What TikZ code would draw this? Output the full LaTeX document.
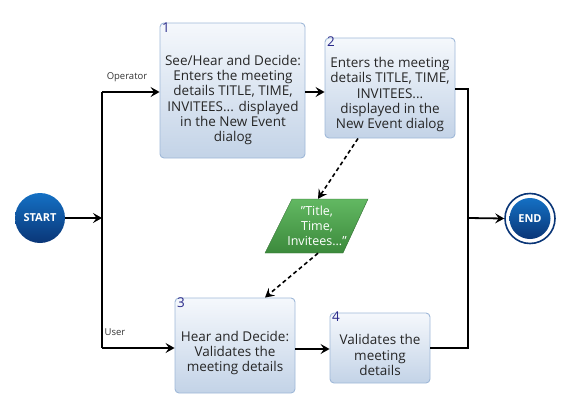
\documentclass[tikz,border=0pt]{standalone}
\usepackage{fontspec}
\setmainfont{Open Sans}
\usetikzlibrary{arrows.meta,shapes.geometric,calc}
\definecolor{boxtop}{HTML}{F5F8FC}
\definecolor{boxbot}{HTML}{C3D3E7}
\definecolor{boxline}{HTML}{9FB8D8}
\definecolor{numcol}{HTML}{2A2A8A}
\definecolor{stTop}{HTML}{1470C4}
\definecolor{stBot}{HTML}{0A3677}
\definecolor{grTop}{HTML}{62B862}
\definecolor{grBot}{HTML}{3C8A3C}
\tikzset{
  x=1pt,y=-1pt,
  stepbox/.style={draw=boxline,line width=0.9pt,rounded corners=4pt,top color=boxtop,bottom color=boxbot,inner sep=0pt},
  boxtext/.style={align=center,font=\fontsize{13.5}{15.3}\selectfont,text=black!85,inner sep=0pt},
  numtxt/.style={font=\fontsize{13.5}{13.5}\selectfont,text=numcol,inner sep=0pt,anchor=north west},
  flow/.style={line width=1.8pt,-{Stealth[length=9pt,width=10pt,inset=3.5pt]}},
  plain/.style={line width=1.8pt},
  dflow/.style={line width=1.6pt,dash pattern=on 4pt off 3pt,-{Stealth[length=9pt,width=10pt,inset=3.5pt]}},
  lbl/.style={font=\fontsize{9.5}{11}\selectfont,text=black!80,inner sep=0pt},
  terminal/.style={circle,minimum size=#1,inner sep=0pt,top color=stTop,bottom color=stBot,text=white,font=\fontsize{11}{11}\selectfont\bfseries},
}
\begin{document}
\begin{tikzpicture}
\useasboundingbox (0,0) rectangle (571,410);
% terminals
\node[terminal=50pt] (start) at (40,218) {START};
\node[circle,draw=stBot,line width=1.6pt,minimum size=50pt,inner sep=0pt,fill=white] (endring) at (530,218.5) {};
\node[terminal=41pt] (end) at (530,218.5) {END};
% boxes
\node[stepbox,minimum width=145pt,minimum height=135pt] (b1) at (232.5,90.5) {};
\node[boxtext] (t1) at (233,100) {See/Hear and Decide:\\Enters the meeting\\details TITLE, TIME,\\INVITEES... displayed\\in the New Event\\dialog};
\node[numtxt] (n1) at (162,23) {1};
\node[stepbox,minimum width=130pt,minimum height=100pt] (b2) at (390,88) {};
\node[boxtext] (t2) at (390,94.5) {Enters the meeting\\details TITLE, TIME,\\INVITEES...\\displayed in the\\New Event dialog};
\node[numtxt] (n2) at (327,37) {2};
\node[stepbox,minimum width=120pt,minimum height=95pt] (b3) at (235,345.5) {};
\node[boxtext] (t3) at (235,353) {Hear and Decide:\\Validates the\\meeting details};
\node[numtxt] (n3) at (177,298) {3};
\node[stepbox,minimum width=100pt,minimum height=70pt] (b4) at (380,348) {};
\node[boxtext] (t4) at (380,355) {Validates the\\meeting\\details};
\node[numtxt] (n4) at (332,312) {4};
% data parallelogram
\shade[top color=grTop,bottom color=grBot,draw=grBot!80!black,line width=0.4pt] (292,199) -- (368,199) -- (343,253) -- (265,253) -- cycle;
\node[align=center,text=white,font=\fontsize{12.5}{15}\selectfont,inner sep=0pt,minimum width=50pt,minimum height=54pt] (data) at (317,226) {"Title,\\Time,\\Invitees..."};
% junction coordinates
\coordinate (j) at (102,218);
\coordinate (jt) at (102,92);
\coordinate (jb) at (102,348);
\coordinate (k) at (468,218);
\coordinate (kt) at (468,89);
\coordinate (kb) at (468,348);
% connectors
\draw[flow] (start) -- (j);
\draw[plain] (jt) -- (jb);
\draw[flow] (jt) -- (b1.west|-jt);
\draw[flow] (jb) -- (b3.west|-jb);
\draw[flow] (b1.east|-jt) -- (b2.west|-jt);
\draw[plain] (b2.east|-kt) -- (kt) -- (kb) -- (b4.east|-kb);
\draw[flow] (k) -- (endring.west);
\draw[flow] (b3.east|-0,349) -- (b4.west|-0,349);
\draw[dflow] ($(b2.south)+(-32,0)$) -- ($(data.north)+(1,0)$);
\draw[dflow] ($(data.south)+(1,0)$) -- ($(b3.north)+(30,0)$);
% labels
\node[lbl] (op) at (127,77) {Operator};
\node[lbl] (us) at (115,332) {User};
\end{tikzpicture}
\end{document}
